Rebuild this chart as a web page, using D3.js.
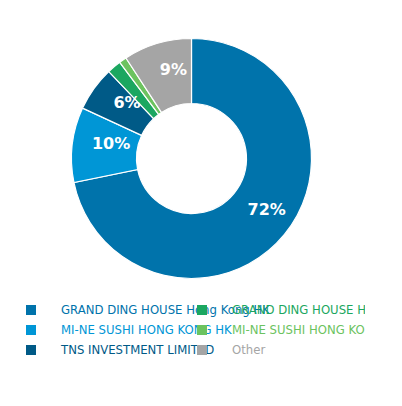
<!DOCTYPE html>
<html>
<head>
<meta charset="utf-8">
<script src="https://cdnjs.cloudflare.com/ajax/libs/d3/7.8.5/d3.min.js"></script>
<style>
  body { margin: 0; background: #fff; }
  svg { display: block; }
</style>
</head>
<body>
<div id="chart-area"></div>
<script>
// slice data, clockwise from 12 o'clock
var names = [
    "GRAND DING HOUSE Hong Kong HK",
    "MI-NE SUSHI HONG KONG HK",
    "TNS INVESTMENT LIMITED",
    "GRAND DING HOUSE Hong Kong HK",
    "MI-NE SUSHI HONG KONG HK",
    "Other"
]
var values = [71.8, 10.1, 6.0, 1.9, 1.0, 9.2]
var colors = ["#0073ab", "#0096d6", "#005a87", "#1ba760", "#6cc35f", "#a5a5a5"]

var width = 402, height = 406
var cx = 191.5, cy = 158.5
var outerR = 120, innerR = 55

var svg = d3.select("#chart-area").append("svg")
    .attr("width", width)
    .attr("height", height)

var pie = d3.pie().sort(null).value(function (d) { return d.value })
var arc = d3.arc().innerRadius(innerR).outerRadius(outerR)
var labelArc = d3.arc().innerRadius(88).outerRadius(88)

var data = names.map(function (n, i) {
    return { name: n, value: values[i], color: colors[i] }
})
var total = d3.sum(values)

var g = svg.append("g").attr("transform", "translate(" + cx + "," + cy + ")")

var arcs = pie(data)

g.selectAll("path")
    .data(arcs)
    .enter().append("path")
    .attr("d", arc)
    .attr("fill", function (d) { return d.data.color })
    .attr("stroke", "#fff")
    .attr("stroke-width", 1.2)

// only the big slices get a label
g.selectAll("text")
    .data(arcs.filter(function (d) { return d.data.value / total >= 0.05 }))
    .enter().append("text")
    .attr("transform", function (d) { return "translate(" + labelArc.centroid(d) + ")" })
    .attr("text-anchor", "middle")
    .attr("dx", 7)
    .attr("dy", "0.05em")
    .attr("fill", "#fff")
    .style("font-family", "'DejaVu Sans', Verdana, sans-serif")
    .style("font-weight", "bold")
    .style("font-size", "16px")
    .text(function (d) { return Math.round(d.data.value / total * 100) + "%" })

// legend: 2 columns, 3 rows, text of col 1 runs under col 2
var colX = [26, 197], rowY = [310, 330, 350]

svg.append("clipPath").attr("id", "legclip")
    .append("rect").attr("x", 0).attr("y", 290).attr("width", 365).attr("height", 80)

var legend = svg.append("g").attr("clip-path", "url(#legclip)")

var items = names.map(function (n, i) { return { name: n, color: colors[i], i: i } })

legend.selectAll("text")
    .data(items)
    .enter().append("text")
    .attr("x", function (d) { return colX[Math.floor(d.i / 3)] + 35 })
    .attr("y", function (d) { return rowY[d.i % 3] })
    .attr("dy", "0.35em")
    .attr("fill", function (d) { return d.color })
    .style("font-family", "'DejaVu Sans', Verdana, sans-serif")
    .style("font-size", "11.7px")
    .text(function (d) { return d.name })

// squares on top of text
legend.selectAll("rect")
    .data(items)
    .enter().append("rect")
    .attr("x", function (d) { return colX[Math.floor(d.i / 3)] })
    .attr("y", function (d) { return rowY[d.i % 3] - 5 })
    .attr("width", 10)
    .attr("height", 10)
    .attr("fill", function (d) { return d.color })
</script>
</body>
</html>
